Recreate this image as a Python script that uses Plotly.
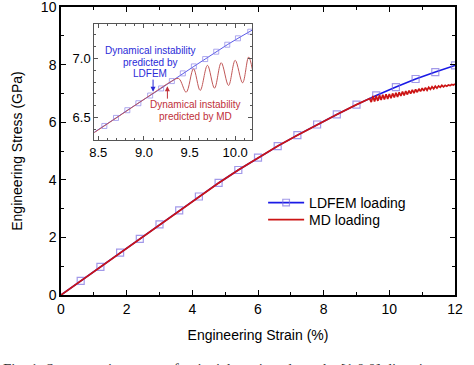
import plotly.graph_objects as go

# ---------------- main data ----------------
ldfem_strain = [0, 0.6, 1.2, 1.8, 2.4, 3.0, 3.6, 4.2, 4.8, 5.4, 6.0, 6.6, 7.2, 7.8, 8.4, 9.0, 9.6, 10.2, 10.8, 11.4, 12.0]
ldfem_stress = [0, 0.49, 0.98, 1.47, 1.95, 2.45, 2.94, 3.42, 3.89, 4.34, 4.77, 5.17, 5.55, 5.92, 6.27, 6.61, 6.93, 7.22, 7.50, 7.74, 7.97]

md_strain = [0, 0.6, 1.2, 1.8, 2.4, 3.0, 3.6, 4.2, 4.8, 5.4, 6.0, 6.6, 7.2, 7.8, 8.4, 9.0, 9.4,
             9.45, 9.50, 9.55, 9.60, 9.65, 9.70, 9.75, 9.80, 9.85, 9.90, 9.95, 10.00,
             10.05, 10.10, 10.15, 10.20, 10.25, 10.30, 10.35, 10.40, 10.45, 10.50,
             10.55, 10.60, 10.65, 10.70, 10.75, 10.80, 10.85, 10.90, 10.95, 11.00,
             11.05, 11.10, 11.15, 11.20, 11.25, 11.30, 11.35, 11.40, 11.45, 11.50,
             11.55, 11.60, 11.65, 11.70, 11.75, 11.80, 11.85, 11.90, 11.95, 12.00]
md_stress = [0, 0.49, 0.98, 1.47, 1.95, 2.45, 2.94, 3.42, 3.89, 4.34, 4.77, 5.17, 5.55, 5.92, 6.27, 6.61, 6.82,
             6.70, 6.91, 6.72, 6.92, 6.74, 6.94, 6.77, 6.95, 6.79, 6.97, 6.81, 6.98,
             6.83, 7.00, 6.86, 7.02, 6.88, 7.04, 6.91, 7.06, 6.93, 7.08,
             6.96, 7.10, 6.99, 7.12, 7.01, 7.14, 7.04, 7.16, 7.07, 7.18,
             7.09, 7.20, 7.11, 7.21, 7.14, 7.23, 7.16, 7.25, 7.18, 7.26,
             7.21, 7.28, 7.23, 7.28, 7.25, 7.29, 7.27, 7.31, 7.29, 7.33]

# ---------------- inset data ----------------
inset_ldfem_strain = [8.45, 8.566, 8.694, 8.818, 8.939, 9.068, 9.188, 9.306, 9.426, 9.547, 9.671, 9.792, 9.913, 10.03, 10.165, 10.19]
inset_ldfem_stress = [6.373, 6.429, 6.497, 6.562, 6.621, 6.686, 6.746, 6.808, 6.873, 6.932, 6.994, 7.056, 7.115, 7.169, 7.225, 7.24]

inset_md_strain = [8.45, 8.80, 9.10, 9.30, 9.38, 9.463, 9.543, 9.616, 9.696, 9.773, 9.847, 9.927, 10.0, 10.081, 10.147, 10.19]
inset_md_stress = [6.37, 6.55, 6.705, 6.805, 6.83, 6.714, 6.912, 6.729, 6.941, 6.748, 6.963, 6.771, 6.983, 6.793, 7.011, 6.90]

x_ticks = [0, 2, 4, 6, 8, 10, 12]
y_ticks = [0, 2, 4, 6, 8, 10]

FONT = "Arial, Liberation Sans, sans-serif"
BLUE = "#1a1ae6"
MARK = "#7a6ee0"
RED = "#cc1414"

fig = go.Figure()

fig.add_trace(go.Scatter(
    x=ldfem_strain, y=ldfem_stress, mode="lines+markers", name="LDFEM loading",
    line=dict(color=BLUE, width=1.6),
    marker=dict(symbol="square-open", size=[0] + [7] * (len(ldfem_strain) - 1), color=MARK,
                line=dict(width=1.2, color=MARK)),
    xaxis="x", yaxis="y", legend="legend"))
fig.add_trace(go.Scatter(
    x=md_strain, y=md_stress, mode="lines", name="MD loading",
    line=dict(color=RED, width=1.7), xaxis="x", yaxis="y", legend="legend2"))

# inset
fig.add_trace(go.Scatter(
    x=inset_ldfem_strain, y=inset_ldfem_stress, mode="lines+markers", showlegend=False,
    line=dict(color="#5a5ae6", width=1),
    marker=dict(symbol="square-open", size=[0] + [5] * (len(inset_ldfem_strain) - 2) + [0],
                color="#8c84e8", line=dict(width=1, color="#8c84e8")),
    xaxis="x2", yaxis="y2"))
fig.add_trace(go.Scatter(
    x=inset_md_strain, y=inset_md_stress, mode="lines", showlegend=False,
    line=dict(color="#c05858", width=1, shape="spline", smoothing=1.0),
    xaxis="x2", yaxis="y2"))

axis_common = dict(showline=True, linecolor="black", linewidth=1.5, mirror="allticks",
                   ticks="inside", ticklen=5, tickwidth=1.2, tickcolor="black",
                   showgrid=False, zeroline=False, automargin=False, ticklabeloverflow="allow",
                   tickfont=dict(family=FONT, size=14, color="black"))

inset_common = dict(showline=True, linecolor="#555", linewidth=1, mirror="allticks",
                    ticks="inside", ticklen=4, tickcolor="#555", showgrid=False, zeroline=False,
                    automargin=False, ticklabeloverflow="allow",
                    tickfont=dict(family=FONT, size=13, color="black"))

legend_common = dict(xanchor="left", yanchor="top", bgcolor="rgba(0,0,0,0)",
                     font=dict(family=FONT, size=14), itemwidth=36, borderwidth=0)

fig.update_layout(
    width=474, height=365,
    margin=dict(l=61, r=19, t=7, b=70),
    paper_bgcolor="white", plot_bgcolor="white",
    font=dict(family=FONT, size=14, color="black"),
    xaxis=dict(range=[0, 12], tickvals=x_ticks,
               minor=dict(dtick=1, ticks="inside", ticklen=3, tickcolor="black"),
               title=dict(text="Engineering Strain (%)", font=dict(family=FONT, size=14)),
               **axis_common),
    yaxis=dict(range=[0, 10], tickvals=y_ticks,
               minor=dict(dtick=1, ticks="inside", ticklen=3, tickcolor="black"),
               title=dict(text="Engineering Stress (GPa)", font=dict(family=FONT, size=14)),
               **axis_common),
    xaxis2=dict(domain=[0.0845, 0.485], anchor="y2", range=[8.456, 10.185],
                tickvals=[8.5, 9.0, 9.5, 10.0], ticktext=["8.5", "9.0", "9.5", "10.0"],
                minor=dict(dtick=0.1, ticks="inside", ticklen=2, tickcolor="#555"),
                **inset_common),
    yaxis2=dict(domain=[0.538, 0.941], anchor="x2", range=[6.31, 7.29],
                tickvals=[6.5, 7.0], ticktext=["6.5", "7.0"],
                minor=dict(dtick=0.1, ticks="inside", ticklen=2, tickcolor="#555"),
                **inset_common),
    legend=dict(x=0.513, y=0.375, **legend_common),
    legend2=dict(x=0.513, y=0.316, **legend_common),
    showlegend=True,
)

# inset annotations
blue_txt = "#2a2ad8"
red_txt = "#c0303a"
for txt, yy in [("Dynamical instability", 7.064), ("predicted by", 6.966), ("LDFEM", 6.873)]:
    fig.add_annotation(x=9.068, y=yy, xref="x2", yref="y2", text=txt, showarrow=False,
                       font=dict(family=FONT, size=10, color=blue_txt))
for txt, yy in [("Dynamical instability", 6.61), ("predicted by MD", 6.511)]:
    fig.add_annotation(x=9.561, y=yy, xref="x2", yref="y2", text=txt, showarrow=False,
                       font=dict(family=FONT, size=10, color=red_txt))

fig.add_annotation(x=9.10, y=6.717, ax=9.10, ay=6.833, xref="x2", yref="y2", axref="x2", ayref="y2",
                   text="", showarrow=True, arrowhead=2, arrowsize=1, arrowwidth=1, arrowcolor=blue_txt)
fig.add_annotation(x=9.257, y=6.765, ax=9.257, ay=6.647, xref="x2", yref="y2", axref="x2", ayref="y2",
                   text="", showarrow=True, arrowhead=2, arrowsize=1, arrowwidth=1, arrowcolor=red_txt)

# caption (cut off at the bottom of the picture, as in the reference)
fig.add_annotation(x=-0.152, y=-0.222, xref="paper", yref="paper", xanchor="left", yanchor="top",
                   text="Fig. 1. Stress-strain curves of uniaxial tension along the [1 0 0] direction",
                   showarrow=False, font=dict(family="Liberation Serif, DejaVu Serif, serif", size=15, color="#333"))

fig.write_html("out.html", config={"displayModeBar": False},
               post_script="document.body.style.margin='0';")
